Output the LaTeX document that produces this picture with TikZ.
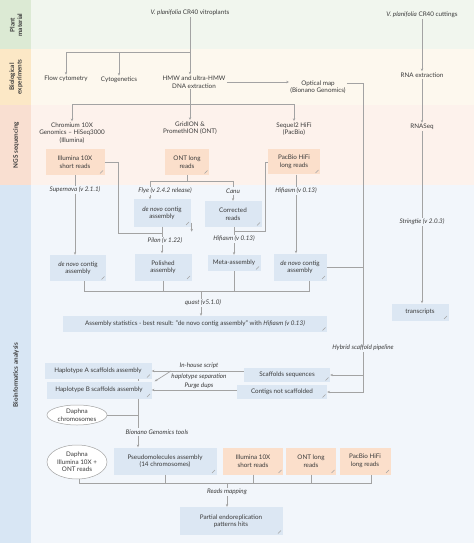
\documentclass[tikz,border=0pt]{standalone}
\usepackage{fontspec}
\setmainfont{Lato}
\usetikzlibrary{arrows.meta,shapes.geometric}
\definecolor{linegray}{HTML}{A3A3A3}
\definecolor{txtgray}{HTML}{3A3A3A}
\definecolor{readfill}{HTML}{FBDFCB}
\definecolor{asmfill}{HTML}{DCE7F3}
\definecolor{plantbg}{HTML}{F1F6EE}
\definecolor{plantbar}{HTML}{DCEAD4}
\definecolor{biobg}{HTML}{FDF8EE}
\definecolor{biobar}{HTML}{FCE8C6}
\definecolor{ngsbg}{HTML}{FDF2EC}
\definecolor{ngsbar}{HTML}{F9DFD1}
\definecolor{infbg}{HTML}{F2F6FB}
\definecolor{infbar}{HTML}{D8E6F4}
\tikzset{
    every node/.style={
        font=\fontsize{6.3}{7.5}\selectfont, % small sans text
        text=txtgray,                         % dark grey text
        inner sep=1.2pt
    },
    flow/.style={draw=linegray, line width=0.7pt},                  % plain connector
    arr/.style={flow, -{Stealth[length=2.8pt,width=2.4pt]}},         % connector with tip
    notebox/.style={
        rectangle,              % flat box
        align=center,
        inner sep=2pt,          % text to border
        path picture={\draw[linegray, line width=0.4pt]
            ([xshift=-4.5pt,yshift=1.5pt]path picture bounding box.south east) --
            ([xshift=-1.5pt,yshift=4.5pt]path picture bounding box.south east);}
    },
    readbox/.style={notebox, fill=readfill},   % sequencing reads
    asmbox/.style={notebox, fill=asmfill},     % assemblies / results
    tool/.style={font=\fontsize{6.3}{7.5}\selectfont\itshape},
    daphna/.style={ellipse, draw=linegray, line width=0.5pt, fill=white, align=center, inner sep=0.5pt},
    rowlabel/.style={font=\fontsize{6.3}{7.5}\selectfont\bfseries, align=center}
}

\begin{document}
\begin{tikzpicture}[x=1pt,y=-1pt]
    \useasboundingbox (0,0) rectangle (474,545);
    \fill[plantbg] (0,0) rectangle (474,49);
    \fill[plantbar] (0,0) rectangle (31,49);
    \fill[biobg] (0,49) rectangle (474,105);
    \fill[biobar] (0,49) rectangle (31,105);
    \fill[ngsbg] (0,105) rectangle (474,185);
    \fill[ngsbar] (0,105) rectangle (31,185);
    \fill[infbg] (0,185) rectangle (474,543);
    \fill[infbar] (0,185) rectangle (31,543);

    \node[rowlabel, rotate=90] (plantlab) at (16,25) {Plant\\material};
    \node[rowlabel, rotate=90] (biolab) at (16,77) {Biological\\experiments};
    \node[rowlabel, rotate=90] (ngslab) at (16,145) {NGS sequencing};
    \node[rowlabel, rotate=90] (inflab) at (16,375) {Bioinformatics analysis};

    \node (vitro) at (190,13) {\textit{V. planifolia} CR40 vitroplants};
    \node (cuttings) at (422,15) {\textit{V. planifolia} CR40 cuttings};
    \node (flow) at (66,79) {Flow cytometry};
    \node (cyto) at (119,80) {Cytogenetics};
    \node[align=center] (hmw) at (194,82) {HMW and ultra-HMW\\DNA extraction};
    \node[align=center] (optical) at (318,87) {Optical map\\(Bionano Genomics)};
    \node (rnaext) at (422,75) {RNA extraction};

    \node[align=center] (chromium) at (72,133) {Chromium 10X\\Genomics -- HiSeq3000\\(Illumina)};
    \node[align=center] (gridion) at (190,128) {GridION \&\\PromethION (ONT)};
    \node[align=center] (sequel) at (294,129) {Sequel2 HiFi\\(PacBio)};
    \node (rnaseq) at (422,127) {RNASeq};
    \node[readbox, minimum width=59pt, minimum height=26pt] (illA) at (75,162) {Illumina 10X\\short reads};
    \node[readbox, minimum width=44pt, minimum height=26pt] (ontA) at (187,162) {ONT long\\reads};
    \node[readbox, minimum width=52pt, minimum height=25pt] (pacA) at (294,162) {PacBio HiFi\\long reads};

    \node[tool] (supernova) at (75,190) {Supernova (v 2.1.1)};
    \node[tool] (flye) at (165,191) {Flye (v 2.4.2 release)};
    \node[tool] (canu) at (233,191) {Canu};
    \node[tool] (hifiasmR) at (296,191) {Hifiasm (v 0.13)};
    \node[asmbox, minimum width=57pt, minimum height=27pt] (denovoF) at (162,213) {\textit{de novo} contig\\assembly};
    \node[asmbox, minimum width=57pt, minimum height=26pt] (corrected) at (233,214) {Corrected\\reads};
    \node[tool] (pilon) at (165,241) {Pilon (v 1.22)};
    \node[tool] (hifiasmM) at (234,239) {Hifiasm (v 0.13)};
    \node[asmbox, minimum width=56pt, minimum height=26pt] (denovoL) at (78,268) {\textit{de novo} contig\\assembly};
    \node[asmbox, minimum width=57pt, minimum height=27pt] (polished) at (163,267) {Polished\\assembly};
    \node[asmbox, minimum width=53pt, minimum height=16pt] (meta) at (234,263) {Meta-assembly};
    \node[asmbox, minimum width=53pt, minimum height=27pt] (denovoH) at (300,267) {\textit{de novo} contig\\assembly};
    \node[tool] (stringtie) at (422,222) {Stringtie (v 2.0.3)};
    \node[tool] (quast) at (203,303) {quast (v5.1.0)};
    \node[asmbox, minimum width=264pt, minimum height=16pt] (stats) at (195,324) {Assembly statistics - best result: "de novo contig assembly" with \textit{Hifiasm (v 0.13)}};
    \node[asmbox, minimum width=57pt, minimum height=17pt] (transcripts) at (420,312) {transcripts};

    \node[tool, fill=infbg] (hybrid) at (363,348) {Hybrid scaffold pipeline};
    \node[asmbox, minimum width=86pt, minimum height=14pt] (scaff) at (287,375) {Scaffolds sequences};
    \node[asmbox, minimum width=90pt, minimum height=14pt] (contigs) at (282,392) {Contigs not scaffolded};
    \node[asmbox, minimum width=107pt, minimum height=16pt] (hapA) at (98,371) {Haplotype A scaffolds assembly};
    \node[asmbox, minimum width=105pt, minimum height=17pt] (hapB) at (99,390) {Haplotype B scaffolds assembly};
    \node[tool] (inhouse) at (199,366) {In-house script};
    \node[tool] (hapsep) at (199,377) {haplotype separation};
    \node[tool] (purge) at (199,386) {Purge dups};
    \node[daphna, minimum width=60pt, minimum height=20pt] (daphChr) at (77,415) {Daphna\\chromosomes};
    \node[tool] (bionano) at (157,432) {Bionano Genomics tools};
    \node[daphna, minimum width=60pt, minimum height=34pt] (daphReads) at (77,462) {Daphna\\Illumina 10X +\\ONT reads};
    \node[asmbox, minimum width=103pt, minimum height=27pt] (pseudo) at (165,461) {Pseudomolecules assembly\\(14 chromosomes)};
    \node[readbox, minimum width=60pt, minimum height=27pt] (illB) at (253,461) {Illumina 10X\\short reads};
    \node[readbox, minimum width=50pt, minimum height=27pt] (ontB) at (311,461) {ONT long\\reads};
    \node[readbox, minimum width=51pt, minimum height=27pt] (pacB) at (365,461) {PacBio HiFi\\long reads};
    \node[tool] (mapping) at (227,492) {Reads mapping};
    \node[asmbox, minimum width=103pt, minimum height=28pt] (partial) at (231,521) {Partial endoreplication\\patterns hits};

    \coordinate (trunk) at (190,52);
    \coordinate (seqbar) at (190,104);
    \coordinate (flyeX) at (150,181);
    \coordinate (canuX) at (233,181);
    \coordinate (illTurn) at (118,233);
    \coordinate (pilonJ) at (162,233);
    \coordinate (metaJ) at (234,231);
    \coordinate (pacTurn) at (265,231);
    \coordinate (quastJ) at (201,291);
    \coordinate (optTurn) at (363,83);
    \coordinate (sepJ) at (171,371);
    \coordinate (bionJ) at (138,415);
    \coordinate (mapJ) at (227,483);

    \draw[arr] (vitro.south -| trunk) -- (hmw.north -| trunk);
    \draw[arr] (trunk) -| (flow.north);
    \draw[arr] (trunk -| cyto.north) -- (cyto.north);
    \draw[arr] (hmw.east) -- (hmw.east -| optical.west);
    \draw[flow] ([yshift=4pt]optical.east) -- (optTurn) -- (hybrid.north);
    \draw[arr] (hybrid.south) |- (contigs.east);
    \draw[arr] (hybrid.south |- scaff.east) -- (scaff.east);
    \draw[arr] (cuttings) -- (rnaext);
    \draw[arr] (rnaext) -- (rnaseq);
    \draw[flow] (rnaseq) -- (stringtie);
    \draw[arr] (stringtie) -- (stringtie |- transcripts.north);

    \draw[flow] (hmw.south -| seqbar) -- (seqbar);
    \draw[arr] (seqbar) -| (chromium.north);
    \draw[arr] (seqbar) -| (sequel.north);
    \draw[arr] (seqbar) -- (gridion.north -| seqbar);

    \draw[flow] (illA) -- (supernova);
    \draw[arr] (supernova.south) -- (supernova.south |- denovoL.north);
    \draw[flow] (illA.east) -| (illTurn) -- (pilonJ);
    \draw[flow] (ontA.south) -- (ontA.south |- flyeX);
    \draw[flow] (flyeX) -- (canuX);
    \draw[flow] (flyeX) -- (flyeX |- flye.north);
    \draw[arr] (flyeX |- flye.south) -- (flyeX |- denovoF.north);
    \draw[flow] (canuX) -- (canu);
    \draw[arr] (canu) -- (corrected);
    \draw[arr] ([xshift=1pt,yshift=4pt]denovoF.south east) -- ++(0,9);
    \draw[flow] (denovoF.south -| pilonJ) -- (pilonJ);
    \draw[flow] (pilonJ) -- (pilonJ |- pilon.north);
    \draw[arr] (pilonJ |- pilon.south) -- (pilonJ |- polished.north);
    \draw[flow] (corrected.south -| metaJ) -- (metaJ);
    \draw[flow] (pacA.west) -| (pacTurn) -- (metaJ);
    \draw[flow] (metaJ) -- (hifiasmM);
    \draw[arr] (hifiasmM) -- (meta);
    \draw[flow] (pacA.south -| hifiasmR) -- (hifiasmR);
    \draw[arr] (hifiasmR) -- (hifiasmR |- denovoH.north);
    \draw[flow] (denovoH.east) -- (denovoH.east -| optTurn);

    \draw[flow] ([xshift=6pt]denovoL.south) -- ([xshift=6pt]denovoL.south |- quastJ) -- ([xshift=9pt]denovoH.south |- quastJ) -- ([xshift=9pt]denovoH.south);
    \draw[flow] (polished.south) -- (polished.south |- quastJ);
    \draw[flow] (meta.south) -- (meta.south |- quastJ);
    \draw[flow] (quastJ) -- (quastJ |- quast.north);
    \draw[arr] (quastJ |- quast.south) -- (quastJ |- stats.north);

    \draw[arr] (scaff.west |- hapA.east) -- (hapA.east);
    \draw[arr] (sepJ) -- ([xshift=3pt]hapB.north east);
    \draw[arr] (contigs.west |- hapB.east) -- (hapB.east);
    \draw[flow] (hapA.south -| bionJ) -- (hapB.north -| bionJ);
    \draw[flow] (hapB.south -| bionJ) -- (bionJ);
    \draw[flow] (daphChr.east) -- (bionJ);
    \draw[flow] (bionJ) -- (bionJ |- bionano.north);
    \draw[arr] (bionJ |- bionano.south) -- (bionJ |- pseudo.north);

    \draw[flow] ([xshift=2pt]daphReads.south) -- ([xshift=2pt]daphReads.south |- mapJ) -- ([xshift=6pt]pacB.south |- mapJ) -- ([xshift=6pt]pacB.south);
    \draw[flow] (pseudo.south) -- (pseudo.south |- mapJ);
    \draw[flow] (illB.south) -- (illB.south |- mapJ);
    \draw[flow] (ontB.south) -- (ontB.south |- mapJ);
    \draw[flow] (mapJ) -- (mapJ |- mapping.north);
    \draw[arr] (mapJ |- mapping.south) -- (mapJ |- partial.north);
\end{tikzpicture}
\end{document}
